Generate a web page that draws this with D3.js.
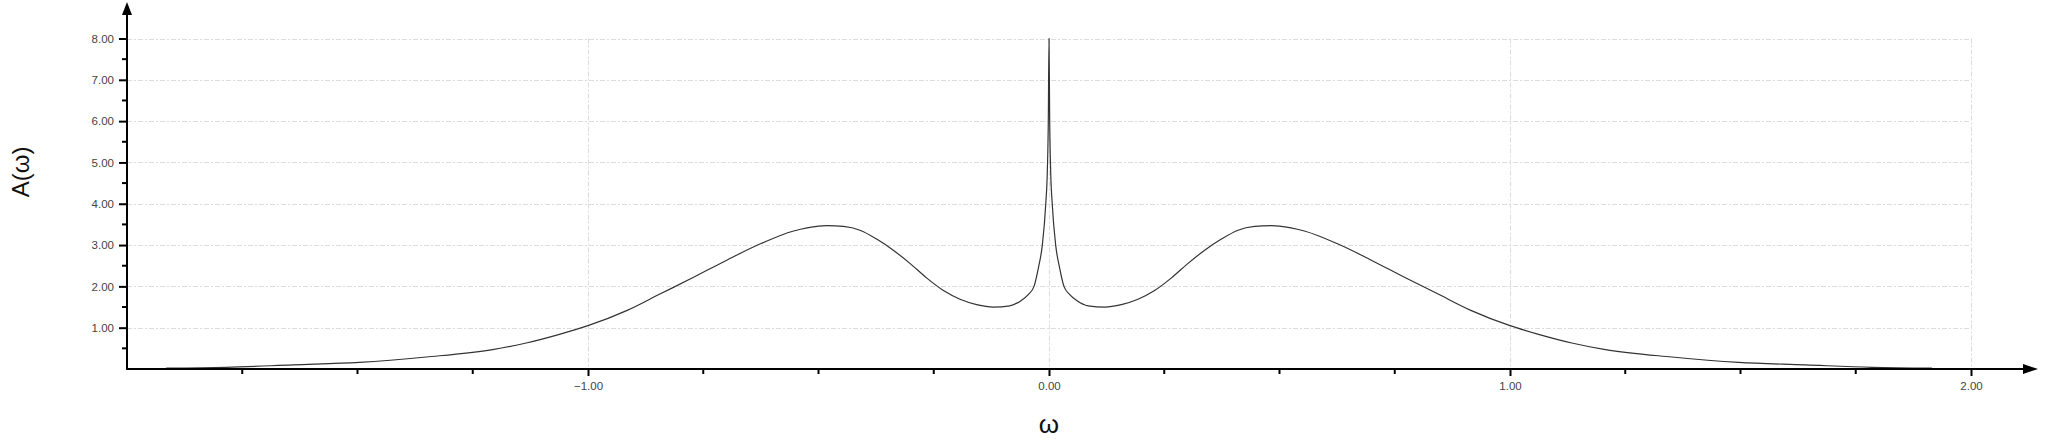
<!DOCTYPE html>
<html>
<head>
<meta charset="utf-8">
<script src="https://cdn.jsdelivr.net/npm/d3@7"></script>
<style>
  html, body { margin: 0; padding: 0; background: #fff; }
  svg { display: block; font-family: "Liberation Sans", Arial, sans-serif; }
</style>
</head>
<body>
<svg id="chart" width="2048" height="443"></svg>
<script>
// ---- data ----
const omega = [
  -1.915, -1.785, -1.64, -1.496, -1.351, -1.207, -1.134, -1.062, -1.0, -0.915,
  -0.843, -0.771, -0.698, -0.626, -0.554, -0.5, -0.482, -0.446, -0.41, -0.373,
  -0.337, -0.301, -0.265, -0.229, -0.193, -0.157, -0.121, -0.085, -0.06, -0.045,
  -0.0325, -0.023, -0.0145, -0.007, -0.0036, -0.0015, 0,
  0.0015, 0.0036, 0.007, 0.0145, 0.023, 0.0325,
  0.045, 0.06, 0.085, 0.121, 0.157, 0.193, 0.229, 0.265, 0.301, 0.337,
  0.373, 0.41, 0.446, 0.482, 0.5, 0.554, 0.626, 0.698, 0.771, 0.843,
  0.915, 1.0, 1.062, 1.134, 1.207, 1.351, 1.496, 1.64, 1.785, 1.915
];
const amplitude = [
  0.02, 0.04, 0.10, 0.16, 0.29, 0.47, 0.63, 0.84, 1.05, 1.42,
  1.82, 2.22, 2.64, 3.03, 3.34, 3.46, 3.47, 3.45, 3.36, 3.14,
  2.87, 2.55, 2.20, 1.90, 1.69, 1.56, 1.50, 1.53, 1.66, 1.80,
  2.00, 2.45, 3.00, 4.00, 4.80, 6.00, 8.00,
  6.00, 4.80, 4.00, 3.00, 2.45, 2.00,
  1.80, 1.66, 1.53, 1.50, 1.56, 1.69, 1.90, 2.20, 2.55, 2.87,
  3.14, 3.36, 3.45, 3.47, 3.46, 3.34, 3.03, 2.64, 2.22, 1.82,
  1.42, 1.05, 0.84, 0.63, 0.47, 0.29, 0.16, 0.10, 0.04, 0.02
];
const yTickValues = [1, 2, 3, 4, 5, 6, 7, 8];
const yMinorValues = [0.5, 1.5, 2.5, 3.5, 4.5, 5.5, 6.5, 7.5];
const xTickValues = [-1, 0, 1, 2];
const xMinorValues = [-1.75, -1.5, -1.25, -0.75, -0.5, -0.25, 0.25, 0.5, 0.75, 1.25, 1.5, 1.75];
const xLabel = "ω";
const yLabel = "A(ω)";

// ---- layout ----
const svg = d3.select("#chart");
const x = d3.scaleLinear().domain([-2, 2]).range([127, 1971]);
const y = d3.scaleLinear().domain([0, 8]).range([369, 38.5]);

// grid
const grid = svg.append("g").attr("stroke", "#dcdcdc").attr("stroke-width", 1)
  .attr("stroke-dasharray", "5,2,2,2");
grid.selectAll("line.h").data(yTickValues).join("line")
  .attr("x1", x(-2)).attr("x2", x(2))
  .attr("y1", d => Math.round(y(d)) + 0.5).attr("y2", d => Math.round(y(d)) + 0.5);
grid.selectAll("line.v").data(xTickValues).join("line")
  .attr("x1", d => Math.round(x(d)) + 0.5).attr("x2", d => Math.round(x(d)) + 0.5)
  .attr("y1", y(8)).attr("y2", y(0));

// curve
const pts = omega.map((w, i) => [w, amplitude[i]]);
svg.append("path").datum(pts)
  .attr("fill", "none").attr("stroke", "#333").attr("stroke-width", 1.2)
  .attr("d", d3.line().x(d => x(d[0])).y(d => y(d[1])).curve(d3.curveMonotoneX));

// x axis
const xAxisG = svg.append("g").attr("transform", `translate(0,${y(0)})`);
xAxisG.call(d3.axisBottom(x).tickValues(xTickValues).tickFormat(d3.format(".2f")).tickSize(7).tickPadding(6))
  .call(g => g.select(".domain").remove());
xAxisG.selectAll(".tick line").attr("stroke", "#000").attr("stroke-width", 2);
xAxisG.selectAll(".tick text").attr("font-size", 11.5).attr("fill", "#444")
  .attr("font-family", "Liberation Sans, Arial, sans-serif");
xAxisG.selectAll("line.minor").data(xMinorValues).join("line")
  .attr("x1", d => x(d)).attr("x2", d => x(d)).attr("y1", 0).attr("y2", 5)
  .attr("stroke", "#000").attr("stroke-width", 2);
xAxisG.append("line").attr("x1", x(-2) - 1).attr("x2", 2026).attr("y1", 0).attr("y2", 0)
  .attr("stroke", "#000").attr("stroke-width", 2);
xAxisG.append("path").attr("d", "M2023,-5 L2038,0 L2023,5 Z").attr("fill", "#000");

// y axis
const yAxisG = svg.append("g").attr("transform", `translate(${x(-2)},0)`);
yAxisG.call(d3.axisLeft(y).tickValues(yTickValues).tickFormat(d3.format(".2f")).tickSize(8).tickPadding(5))
  .call(g => g.select(".domain").remove());
yAxisG.selectAll(".tick line").attr("stroke", "#000").attr("stroke-width", 2);
yAxisG.selectAll(".tick text").attr("font-size", 11.5).attr("fill", "#444")
  .attr("font-family", "Liberation Sans, Arial, sans-serif");
yAxisG.selectAll("line.minor").data(yMinorValues).join("line")
  .attr("x1", -5).attr("x2", 0).attr("y1", d => y(d)).attr("y2", d => y(d))
  .attr("stroke", "#000").attr("stroke-width", 2);
yAxisG.append("line").attr("x1", 0).attr("x2", 0).attr("y1", y(0) + 1).attr("y2", 12)
  .attr("stroke", "#000").attr("stroke-width", 2);
yAxisG.append("path").attr("d", "M-5,15 L0,2 L5,15 Z").attr("fill", "#000");

// axis titles
svg.append("text").attr("x", x(0)).attr("y", 433).attr("text-anchor", "middle")
  .attr("font-size", 26).attr("fill", "#111").text(xLabel);
svg.append("text").attr("transform", "translate(29,172) rotate(-90)").attr("text-anchor", "middle")
  .attr("font-size", 24).attr("fill", "#111").text(yLabel);
</script>
</body>
</html>
